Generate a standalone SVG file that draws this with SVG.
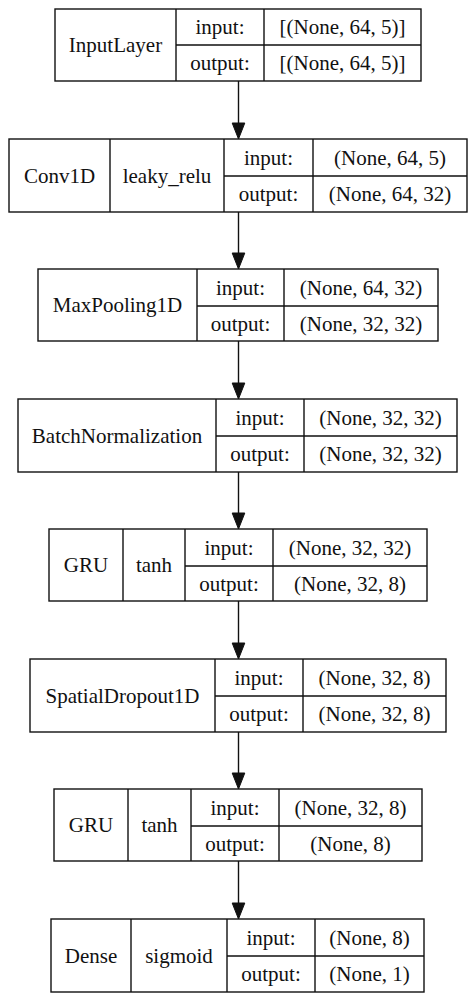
<svg xmlns="http://www.w3.org/2000/svg" width="474" height="1002" viewBox="0 0 474 1002">
<style>
.b{fill:none;stroke:#111;stroke-width:1.4}
text{fill:#111;text-anchor:middle}
.e line{stroke:#111;stroke-width:1.4}
.e polygon{fill:#111;stroke:#111;stroke-width:1}
</style>
<rect width="474" height="1002" fill="#fff"/>
<g font-family="Liberation Serif" font-size="21">
<g id="n1">
<rect class="b" x="55" y="9" width="366" height="72"/>
<path class="b" d="M176 9V81M264 9V81M176 45H421"/>
<text x="115.5" y="52">InputLayer</text>
<text x="220" y="34">input:</text>
<text x="220" y="70">output:</text>
<text x="342.5" y="34">[(None, 64, 5)]</text>
<text x="342.5" y="70">[(None, 64, 5)]</text>
</g>
<g id="n2">
<rect class="b" x="9" y="139" width="458" height="73"/>
<path class="b" d="M110 139V212M224 139V212M313 139V212M224 176H467"/>
<text x="59.5" y="182.5">Conv1D</text>
<text x="167" y="182.5">leaky_relu</text>
<text x="268.5" y="164.5">input:</text>
<text x="268.5" y="201">output:</text>
<text x="390" y="164.5">(None, 64, 5)</text>
<text x="390" y="201">(None, 64, 32)</text>
</g>
<g id="n3">
<rect class="b" x="38" y="269" width="400" height="72"/>
<path class="b" d="M197 269V341M284 269V341M197 306H438"/>
<text x="117.5" y="312">MaxPooling1D</text>
<text x="240.5" y="294.5">input:</text>
<text x="240.5" y="330.5">output:</text>
<text x="361" y="294.5">(None, 64, 32)</text>
<text x="361" y="330.5">(None, 32, 32)</text>
</g>
<g id="n4">
<rect class="b" x="18" y="399" width="439" height="73"/>
<path class="b" d="M216 399V472M304 399V472M216 436H457"/>
<text x="117" y="442.5">BatchNormalization</text>
<text x="260" y="424.5">input:</text>
<text x="260" y="461">output:</text>
<text x="380.5" y="424.5">(None, 32, 32)</text>
<text x="380.5" y="461">(None, 32, 32)</text>
</g>
<g id="n5">
<rect class="b" x="49" y="529" width="378" height="72"/>
<path class="b" d="M123 529V601M185 529V601M273 529V601M185 566H427"/>
<text x="86" y="572">GRU</text>
<text x="154" y="572">tanh</text>
<text x="229" y="554.5">input:</text>
<text x="229" y="590.5">output:</text>
<text x="350" y="554.5">(None, 32, 32)</text>
<text x="350" y="590.5">(None, 32, 8)</text>
</g>
<g id="n6">
<rect class="b" x="30" y="659" width="416" height="73"/>
<path class="b" d="M215 659V732M303 659V732M215 696H446"/>
<text x="122.5" y="702.5">SpatialDropout1D</text>
<text x="259" y="684.5">input:</text>
<text x="259" y="721">output:</text>
<text x="374.5" y="684.5">(None, 32, 8)</text>
<text x="374.5" y="721">(None, 32, 8)</text>
</g>
<g id="n7">
<rect class="b" x="54" y="789" width="368" height="72"/>
<path class="b" d="M128 789V861M191 789V861M279 789V861M191 826H422"/>
<text x="91" y="832">GRU</text>
<text x="159.5" y="832">tanh</text>
<text x="235" y="814.5">input:</text>
<text x="235" y="850.5">output:</text>
<text x="350.5" y="814.5">(None, 32, 8)</text>
<text x="350.5" y="850.5">(None, 8)</text>
</g>
<g id="n8">
<rect class="b" x="51" y="919" width="373" height="73"/>
<path class="b" d="M131 919V992M227 919V992M315 919V992M227 956H424"/>
<text x="91" y="962.5">Dense</text>
<text x="179" y="962.5">sigmoid</text>
<text x="271" y="944.5">input:</text>
<text x="271" y="981">output:</text>
<text x="369.5" y="944.5">(None, 8)</text>
<text x="369.5" y="981">(None, 1)</text>
</g>
</g>
<g id="edges" class="e">
<line x1="238.5" y1="81" x2="238.5" y2="124"/><polygon points="232.2,123 244.8,123 238.5,139"/>
<line x1="238.5" y1="212" x2="238.5" y2="254"/><polygon points="232.2,253 244.8,253 238.5,269"/>
<line x1="238.5" y1="341" x2="238.5" y2="384"/><polygon points="232.2,383 244.8,383 238.5,399"/>
<line x1="238.5" y1="472" x2="238.5" y2="514"/><polygon points="232.2,513 244.8,513 238.5,529"/>
<line x1="238.5" y1="601" x2="238.5" y2="644"/><polygon points="232.2,643 244.8,643 238.5,659"/>
<line x1="238.5" y1="732" x2="238.5" y2="774"/><polygon points="232.2,773 244.8,773 238.5,789"/>
<line x1="238.5" y1="861" x2="238.5" y2="904"/><polygon points="232.2,903 244.8,903 238.5,919"/>
</g>
</svg>
